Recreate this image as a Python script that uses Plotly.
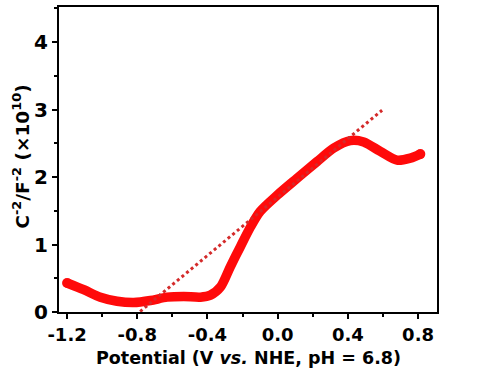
import plotly.graph_objects as go

potential = [-1.2, -1.105, -1.01, -0.915, -0.82, -0.725, -0.63, -0.535, -0.44, -0.383,
             -0.326, -0.27, -0.212, -0.155, -0.1, -0.003, 0.11, 0.225, 0.32, 0.414,
             0.49, 0.585, 0.68, 0.756, 0.813]
c2 = [0.43, 0.33, 0.22, 0.16, 0.14, 0.17, 0.22, 0.23, 0.22, 0.25,
      0.37, 0.67, 0.97, 1.26, 1.49, 1.73, 1.98, 2.23, 2.43, 2.54,
      2.52, 2.38, 2.25, 2.28, 2.34]
fit_x = [-0.81, 0.595]
fit_y = [-0.05, 2.99]

x_ticks = [-1.2, -0.8, -0.4, 0.0, 0.4, 0.8]
x_ticklabels = ["-1.2", "-0.8", "-0.4", "0.0", "0.4", "0.8"]
y_ticks = [0, 1, 2, 3, 4]
y_ticklabels = ["0", "1", "2", "3", "4"]

x_title = "Potential (V <i>vs.</i> NHE, pH = 6.8)"
y_title = "C<sup>-2</sup>/F<sup>-2</sup> (×10<sup>10</sup>)"

RED = "#ff0a0a"
fig = go.Figure()
fig.add_trace(go.Scatter(x=potential, y=c2, mode="lines",
                         line=dict(color=RED, width=9.5, shape="spline", smoothing=0.8),
                         cliponaxis=False, showlegend=False))
fig.add_trace(go.Scatter(x=[potential[0], potential[-1]], y=[c2[0], c2[-1]], mode="markers",
                         marker=dict(color=RED, size=10), cliponaxis=False, showlegend=False))
fig.add_trace(go.Scatter(x=fit_x, y=fit_y, mode="lines",
                         line=dict(color="#d42a2a", width=3, dash="dot"),
                         cliponaxis=False, showlegend=False))

FF = "DejaVu Sans"
fig.update_layout(
    width=500, height=383,
    margin=dict(l=59, r=63, t=7, b=71),
    paper_bgcolor="white", plot_bgcolor="white",
    font=dict(family=FF, color="black"),
    xaxis=dict(range=[-1.246, 0.908], tickvals=x_ticks, ticktext=x_ticklabels,
               ticks="outside", ticklen=5, tickwidth=2, tickcolor="black",
               minor=dict(dtick=0.2, tick0=-1.2, ticks="outside", ticklen=3, tickwidth=2, tickcolor="black"),
               showline=True, linewidth=2, linecolor="black", mirror=True,
               showgrid=False, zeroline=False, automargin=False,
               tickfont=dict(size=18, family=FF, weight="bold")),
    yaxis=dict(range=[0, 4.52], tickvals=y_ticks, ticktext=y_ticklabels,
               ticks="outside", ticklen=5, tickwidth=2, tickcolor="black",
               minor=dict(dtick=0.5, tick0=0, ticks="outside", ticklen=3, tickwidth=2, tickcolor="black"),
               showline=True, linewidth=2, linecolor="black", mirror=True,
               showgrid=False, zeroline=False, automargin=False,
               tickfont=dict(size=20, family=FF, weight="bold")),
    annotations=[
        dict(text=x_title, xref="paper", yref="paper", x=0.5, y=-0.11, xanchor="center", yanchor="top",
             showarrow=False, font=dict(size=17.5, family=FF, weight="bold")),
        dict(text=y_title, xref="paper", yref="paper", x=-0.1, y=0.51, xanchor="center", yanchor="middle",
             textangle=-90, showarrow=False, font=dict(size=18.5, family=FF, weight="bold")),
    ],
)
fig.write_html("out.html", config={"displayModeBar": False},
               post_script="document.body.style.margin='0';document.body.style.padding='0';")
